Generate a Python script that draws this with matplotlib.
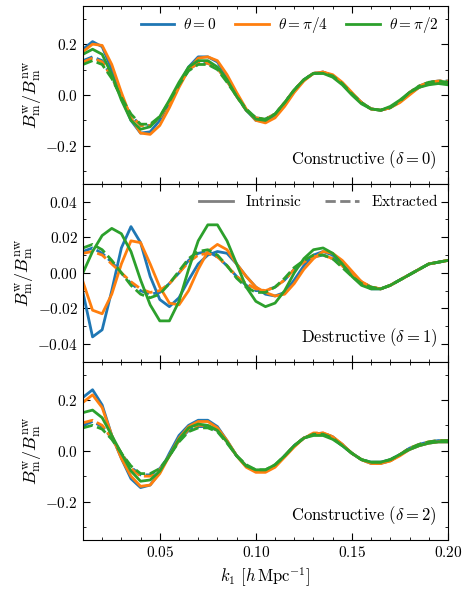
import numpy as np
import matplotlib
matplotlib.use("Agg")
import matplotlib.pyplot as plt
from matplotlib.lines import Line2D
from matplotlib.ticker import AutoMinorLocator

plt.rcParams.update({
    "font.family": "serif",
    "font.serif": ["cmr10", "DejaVu Serif"],
    "mathtext.fontset": "cm",
    "axes.formatter.use_mathtext": True,
    "font.size": 11,
    "xtick.labelsize": 11, "ytick.labelsize": 11,
    "xtick.direction": "in", "ytick.direction": "in",
    "xtick.top": True, "ytick.right": True,
    "xtick.minor.visible": True, "ytick.minor.visible": True,
    "xtick.major.size": 5, "ytick.major.size": 5,
})

k1 = np.round(np.arange(0.01, 0.2001, 0.005), 3)
theta_labels = [r"$\theta=0$", r"$\theta=\pi/4$", r"$\theta=\pi/2$"]
colors = ["#1f77b4", "#ff7f0e", "#2ca02c"]
panel_labels = [r"$\mathrm{Constructive}\ (\delta=0)$",
                r"$\mathrm{Destructive}\ (\delta=1)$",
                r"$\mathrm{Constructive}\ (\delta=2)$"]

# ---- delta = 0 -------------------------------------------------------------
d0_int = [
    [0.18, 0.21, 0.19, 0.10, -0.01, -0.10, -0.15, -0.145, -0.10, -0.03, 0.04, 0.11, 0.15, 0.15, 0.13, 0.07, 0.0, -0.06, -0.10, -0.105, -0.08, -0.035, 0.015, 0.06, 0.085, 0.09, 0.075, 0.045, 0.005, -0.03, -0.055, -0.06, -0.05, -0.025, 0.005, 0.03, 0.045, 0.05, 0.045],
    [0.17, 0.20, 0.195, 0.12, 0.01, -0.09, -0.15, -0.155, -0.12, -0.05, 0.03, 0.10, 0.145, 0.15, 0.135, 0.08, 0.01, -0.055, -0.10, -0.11, -0.09, -0.045, 0.01, 0.055, 0.085, 0.09, 0.08, 0.05, 0.01, -0.03, -0.055, -0.06, -0.05, -0.03, 0.0, 0.03, 0.045, 0.05, 0.05],
    [0.16, 0.18, 0.16, 0.08, -0.02, -0.10, -0.135, -0.125, -0.085, -0.02, 0.05, 0.11, 0.135, 0.135, 0.11, 0.06, -0.005, -0.06, -0.095, -0.10, -0.075, -0.03, 0.02, 0.06, 0.085, 0.085, 0.07, 0.04, 0.0, -0.035, -0.055, -0.06, -0.045, -0.02, 0.01, 0.03, 0.04, 0.045, 0.04],
]
d0_ext = [
    [0.135, 0.15, 0.135, 0.07, -0.01, -0.08, -0.12, -0.12, -0.09, -0.03, 0.04, 0.10, 0.125, 0.125, 0.105, 0.055, -0.005, -0.06, -0.09, -0.095, -0.075, -0.03, 0.02, 0.06, 0.085, 0.09, 0.075, 0.045, 0.005, -0.03, -0.055, -0.06, -0.05, -0.025, 0.01, 0.035, 0.05, 0.055, 0.055],
    [0.13, 0.145, 0.13, 0.07, -0.01, -0.08, -0.12, -0.12, -0.09, -0.03, 0.04, 0.10, 0.125, 0.125, 0.105, 0.055, -0.005, -0.06, -0.09, -0.095, -0.075, -0.03, 0.02, 0.06, 0.085, 0.09, 0.075, 0.045, 0.005, -0.03, -0.055, -0.06, -0.05, -0.025, 0.01, 0.035, 0.05, 0.055, 0.055],
    [0.12, 0.135, 0.12, 0.065, -0.01, -0.075, -0.115, -0.115, -0.085, -0.025, 0.04, 0.095, 0.12, 0.12, 0.10, 0.05, -0.005, -0.055, -0.09, -0.095, -0.075, -0.03, 0.02, 0.06, 0.085, 0.085, 0.075, 0.045, 0.005, -0.03, -0.055, -0.06, -0.05, -0.025, 0.01, 0.035, 0.05, 0.055, 0.05],
]

# ---- delta = 1 -------------------------------------------------------------
d1_int = [
    [-0.011, -0.036, -0.032, -0.010, 0.014, 0.026, 0.017, -0.002, -0.015, -0.019, -0.014, -0.004, 0.005, 0.010, 0.012, 0.011, 0.005, -0.002, -0.008, -0.012, -0.013, -0.011, -0.004, 0.004, 0.010, 0.012, 0.010, 0.005, -0.001, -0.006, -0.009, -0.009, -0.007, -0.004, -0.001, 0.002, 0.005, 0.006, 0.007],
    [-0.005, -0.021, -0.023, -0.012, 0.005, 0.018, 0.017, 0.005, -0.008, -0.017, -0.018, -0.010, 0.002, 0.012, 0.016, 0.013, 0.005, -0.002, -0.008, -0.011, -0.013, -0.012, -0.006, 0.002, 0.008, 0.012, 0.011, 0.007, 0.001, -0.005, -0.008, -0.009, -0.007, -0.004, -0.001, 0.002, 0.005, 0.006, 0.007],
    [0.000, 0.012, 0.021, 0.025, 0.022, 0.012, -0.004, -0.018, -0.027, -0.027, -0.016, 0.002, 0.018, 0.027, 0.027, 0.018, 0.005, -0.008, -0.016, -0.019, -0.017, -0.010, 0.000, 0.008, 0.013, 0.014, 0.011, 0.005, -0.002, -0.007, -0.009, -0.009, -0.007, -0.004, -0.001, 0.002, 0.005, 0.006, 0.007],
]
d1_ext = [
    [0.012, 0.014, 0.011, 0.006, 0.0, -0.006, -0.010, -0.012, -0.011, -0.006, 0.0, 0.007, 0.011, 0.012, 0.009, 0.004, -0.002, -0.007, -0.010, -0.010, -0.008, -0.004, 0.002, 0.006, 0.009, 0.010, 0.008, 0.004, -0.001, -0.005, -0.008, -0.009, -0.007, -0.004, -0.001, 0.002, 0.005, 0.006, 0.007],
    [0.011, 0.012, 0.010, 0.005, 0.000, -0.005, -0.009, -0.011, -0.010, -0.006, 0.000, 0.006, 0.010, 0.011, 0.009, 0.004, -0.002, -0.006, -0.009, -0.010, -0.008, -0.004, 0.002, 0.006, 0.009, 0.010, 0.008, 0.004, -0.001, -0.005, -0.008, -0.009, -0.007, -0.004, -0.001, 0.002, 0.005, 0.006, 0.007],
    [0.014, 0.016, 0.013, 0.007, 0.000, -0.007, -0.012, -0.014, -0.012, -0.006, 0.001, 0.008, 0.012, 0.013, 0.010, 0.004, -0.003, -0.008, -0.011, -0.011, -0.008, -0.003, 0.003, 0.007, 0.010, 0.010, 0.008, 0.003, -0.002, -0.006, -0.008, -0.009, -0.007, -0.004, -0.001, 0.002, 0.005, 0.006, 0.007],
]

# ---- delta = 2 -------------------------------------------------------------
d2_int = [
    [0.21, 0.24, 0.18, 0.06, -0.03, -0.11, -0.145, -0.135, -0.085, -0.01, 0.06, 0.10, 0.12, 0.12, 0.095, 0.04, -0.02, -0.06, -0.08, -0.08, -0.06, -0.02, 0.02, 0.05, 0.065, 0.065, 0.05, 0.02, -0.01, -0.035, -0.045, -0.045, -0.035, -0.015, 0.005, 0.02, 0.03, 0.035, 0.035],
    [0.19, 0.22, 0.17, 0.06, -0.03, -0.10, -0.14, -0.135, -0.09, -0.02, 0.05, 0.095, 0.115, 0.115, 0.09, 0.04, -0.02, -0.065, -0.085, -0.085, -0.065, -0.025, 0.015, 0.05, 0.065, 0.07, 0.055, 0.025, -0.01, -0.035, -0.05, -0.05, -0.04, -0.02, 0.005, 0.02, 0.03, 0.035, 0.035],
    [0.15, 0.16, 0.13, 0.06, -0.01, -0.08, -0.12, -0.115, -0.08, -0.02, 0.045, 0.09, 0.105, 0.10, 0.08, 0.035, -0.02, -0.06, -0.075, -0.075, -0.055, -0.02, 0.02, 0.05, 0.06, 0.06, 0.045, 0.02, -0.01, -0.035, -0.045, -0.045, -0.035, -0.015, 0.005, 0.02, 0.03, 0.035, 0.035],
]
d2_ext = [
    [0.10, 0.115, 0.095, 0.05, -0.01, -0.065, -0.095, -0.095, -0.07, -0.02, 0.04, 0.08, 0.095, 0.095, 0.08, 0.035, -0.02, -0.06, -0.08, -0.08, -0.06, -0.02, 0.02, 0.05, 0.065, 0.07, 0.055, 0.025, -0.01, -0.035, -0.05, -0.05, -0.04, -0.015, 0.01, 0.025, 0.035, 0.04, 0.04],
    [0.11, 0.12, 0.10, 0.05, -0.01, -0.07, -0.10, -0.10, -0.075, -0.02, 0.04, 0.085, 0.10, 0.10, 0.08, 0.035, -0.02, -0.06, -0.08, -0.08, -0.06, -0.02, 0.02, 0.05, 0.07, 0.07, 0.055, 0.025, -0.01, -0.035, -0.05, -0.05, -0.04, -0.015, 0.01, 0.025, 0.035, 0.04, 0.04],
    [0.09, 0.10, 0.085, 0.045, -0.01, -0.06, -0.09, -0.09, -0.07, -0.02, 0.035, 0.075, 0.09, 0.09, 0.075, 0.03, -0.02, -0.055, -0.075, -0.075, -0.055, -0.02, 0.02, 0.05, 0.065, 0.065, 0.05, 0.02, -0.01, -0.035, -0.045, -0.045, -0.035, -0.015, 0.01, 0.025, 0.035, 0.04, 0.04],
]

panels = [(d0_int, d0_ext), (d1_int, d1_ext), (d2_int, d2_ext)]
ylims = [(-0.35, 0.35), (-0.05, 0.05), (-0.35, 0.35)]
yticks = [[-0.2, 0.0, 0.2], [-0.04, -0.02, 0.0, 0.02, 0.04], [-0.2, 0.0, 0.2]]

fig, axes = plt.subplots(3, 1, figsize=(4.74, 6.03), dpi=100, sharex=True)
fig.subplots_adjust(left=0.175, right=0.945, top=0.99, bottom=0.105, hspace=0)

for ax, (intr, extr), yl, yt, lab in zip(axes, panels, ylims, yticks, panel_labels):
    for c, yi, ye, tl in zip(colors, intr, extr, theta_labels):
        ax.plot(k1, yi, color=c, lw=2, label=tl)
        ax.plot(k1, ye, color=c, lw=2, ls="--")
    ax.set_xlim(0.01, 0.20)
    ax.set_ylim(*yl)
    ax.set_yticks(yt)
    ax.yaxis.set_minor_locator(AutoMinorLocator(2))
    ax.xaxis.set_minor_locator(AutoMinorLocator(5))
    ax.set_ylabel(r"$B_\mathrm{m}^\mathrm{w}/B_\mathrm{m}^\mathrm{nw}$", fontsize=13, labelpad=2)
    ax.text(0.97, 0.07, lab, transform=ax.transAxes, ha="right", va="bottom", fontsize=12)

axes[0].legend(loc="upper right", ncol=3, frameon=False, fontsize=11,
               handlelength=2.2, columnspacing=1.2, borderaxespad=0.2, handletextpad=0.6)
handles = [Line2D([], [], color="grey", lw=2), Line2D([], [], color="grey", lw=2, ls="--")]
axes[1].legend(handles, [r"$\mathrm{Intrinsic}$", r"$\mathrm{Extracted}$"], loc="upper right",
               ncol=2, frameon=False, fontsize=11, handlelength=2.2, columnspacing=1.5,
               borderaxespad=0.2)
axes[2].set_xticks([0.05, 0.10, 0.15, 0.20])
axes[2].set_xlabel(r"$k_1\ [h\,\mathrm{Mpc}^{-1}]$", fontsize=12)

fig.savefig("out.png", dpi=100)
